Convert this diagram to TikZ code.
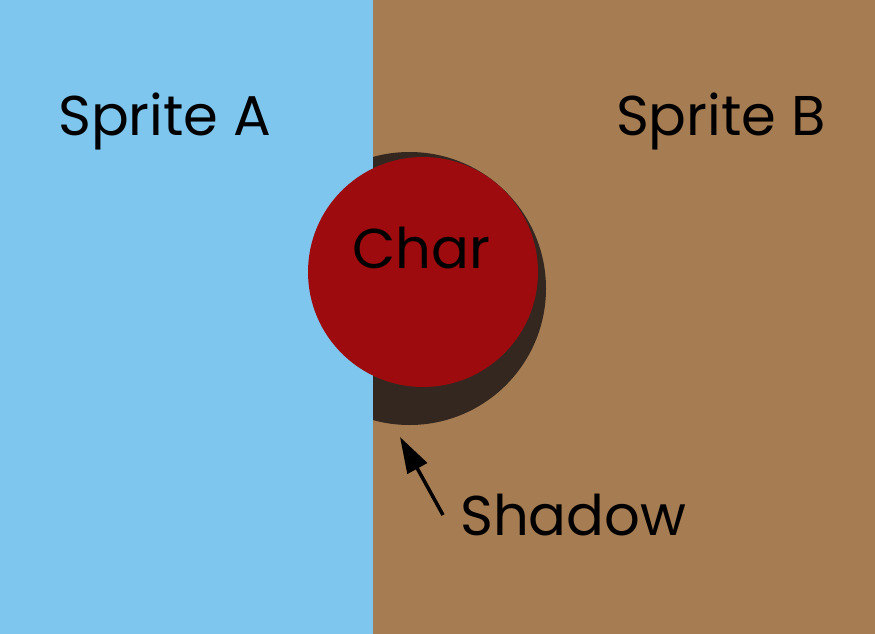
\documentclass[tikz,border=0pt]{standalone}
\usepackage{fontspec}
\setmainfont{Poppins}
\usepackage{tikz}
\usepackage{xcolor}
\usetikzlibrary{arrows.meta}

\definecolor{skyblue}{HTML}{7EC6EE}
\definecolor{dirt}{HTML}{A67C52}
\definecolor{charred}{HTML}{9E0B0F}
\definecolor{darkshadow}{HTML}{332720}

\tikzset{
    lbl/.style={inner sep=0pt, font=\fontsize{56}{60}\selectfont},
}

\begin{document}
\begin{tikzpicture}[x=1pt,y=-1pt]
        \useasboundingbox (0,0) rectangle (875,634);
        %\draw[gray] (0,0) grid (875,634);

        \fill[skyblue] (0,0) rectangle (373,634);
        \fill[dirt] (373,0) rectangle (875,634);

        % shadow only falls on sprite B
        \begin{scope}
            \clip (373,0) rectangle (875,634);
            \fill[darkshadow] (409.5,288.5) circle (136.5);
        \end{scope}
        \fill[charred] (423,272) circle (115);

        \node[lbl, anchor=base west] (spriteA) at (58,135) {Sprite A};
        \node[lbl, anchor=base east] (spriteB) at (826,135) {Sprite B};
        \node[lbl, anchor=base] (char) at (421,268) {Char};
        \node[lbl, anchor=base west] (shadow) at (460,535) {Shadow};

        \coordinate (tail) at (443,515);
        \coordinate (tip) at (400,437);
        \draw[line width=3.5pt, -{Triangle[length=36pt,width=22pt]}] (tail) -- (tip);
    \end{tikzpicture}
\end{document}
